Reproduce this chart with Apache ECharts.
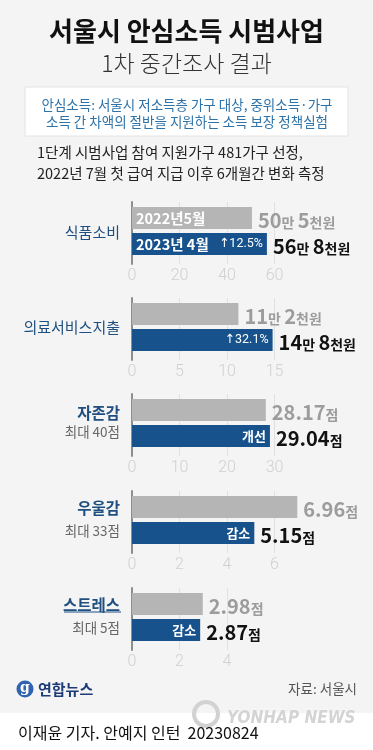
<!DOCTYPE html>
<html><head><meta charset="utf-8">
<script src="https://cdn.jsdelivr.net/npm/echarts@6/dist/echarts.min.js"></script>
<style>
html,body{margin:0;padding:0;background:#fff}
#c{width:373px;height:750px;background:linear-gradient(to bottom,#f4f4f4 0,#f4f4f4 713px,#ffffff 713px)}
</style>
</head><body><div id="c"></div>
<script>
// ---- data ----
const categories = ['식품소비', '의료서비스지출', '자존감', '우울감', '스트레스'];
const maxNotes = ['', '', '최대 40점', '최대 33점', '최대 5점'];
const periods = ['2022년5월', '2023년 4월'];
const values2022 = [50.5, 11.2, 28.17, 6.96, 2.98];
const values2023 = [56.8, 14.8, 29.04, 5.15, 2.87];
const changeTags = ['↑12.5%', '↑32.1%', '개선', '감소', '감소'];
const valueKinds = ['won', 'won', 'score', 'score', 'score'];
const tickMax = [60, 15, 30, 6, 4];
const tickStep = [20, 5, 10, 2, 2];

// ---- layout ----
const FONT = '"Noto Sans CJK KR", "Noto Sans", sans-serif';
const LEFT = 132, PX_PER_TICK = 47.5, BAR_H = 52;
const barTop = [205, 301, 397, 494, 591];
const catY = [232, 327, 413, 508, 605];
const noteY = [0, 0, 432, 531, 628];
const GRAY = '#b5b5b5', BLUE = '#17528c';

function valueText(v, kind, s) {
  if (kind === 'won') {
    const man = Math.floor(v);
    const ch = Math.round((v - man) * 10);
    return '{' + s + 'N|' + man + '}{' + s + 'U|만} {' + s + 'N|' + ch + '}{' + s + 'U|천원}';
  }
  return '{' + s + 'N|' + v.toFixed(2) + '}{' + s + 'U|점}';
}

const rich = {
  gN: {fontSize: 20, fontWeight: 'bold', color: '#9c9c9c', fontFamily: FONT, lineHeight: 24, verticalAlign: 'bottom'},
  gU: {fontSize: 14, fontWeight: 'bold', color: '#9c9c9c', fontFamily: FONT, lineHeight: 24, verticalAlign: 'bottom'},
  kN: {fontSize: 20, fontWeight: 'bold', color: '#111111', fontFamily: FONT, lineHeight: 24, verticalAlign: 'bottom'},
  kU: {fontSize: 14, fontWeight: 'bold', color: '#111111', fontFamily: FONT, lineHeight: 24, verticalAlign: 'bottom'}
};

const grids = [], xAxes = [], yAxes = [], series = [];
categories.forEach((cat, i) => {
  const w = tickMax[i] / tickStep[i] * PX_PER_TICK;
  // frame grid (gridlines, zero line, ticks)
  grids.push({left: LEFT, top: barTop[i] - 3, width: w, height: BAR_H + 10});
  xAxes.push({gridIndex: 2 * i, type: 'value', min: 0, max: tickMax[i], interval: tickStep[i],
    axisLine: {show: false}, axisTick: {show: false},
    splitLine: {show: true, lineStyle: {color: '#e1e1e1', width: 1}},
    axisLabel: {color: '#d0d0d0', fontSize: 16, fontFamily: 'Roboto', fontWeight: 300, margin: 4}});
  yAxes.push({gridIndex: 2 * i, type: 'value', min: 0, max: 1,
    axisLine: {show: true, onZero: false, lineStyle: {color: '#8e8e8e', width: 2}},
    axisTick: {show: false}, axisLabel: {show: false}, splitLine: {show: false}});
  // bar grid
  grids.push({left: LEFT, top: barTop[i], width: w, height: BAR_H});
  xAxes.push({gridIndex: 2 * i + 1, type: 'value', min: 0, max: tickMax[i], show: false});
  yAxes.push({gridIndex: 2 * i + 1, type: 'category', data: periods, inverse: true, show: false});

  const a = values2022[i], b = values2023[i];
  series.push({
    type: 'bar', xAxisIndex: 2 * i + 1, yAxisIndex: 2 * i + 1, barWidth: 22, barGap: '-100%', clip: false, z: 2,
    data: [
      {value: a, itemStyle: {color: GRAY},
        label: {show: true, position: 'right', distance: 6, formatter: valueText(a, valueKinds[i], 'g'), rich: rich}},
      {value: b, itemStyle: {color: BLUE},
        label: {show: true, position: 'right', distance: 6, formatter: valueText(b, valueKinds[i], 'k'), rich: rich}}
    ]
  });
  // overlay for period labels (first panel only)
  series.push({
    type: 'bar', xAxisIndex: 2 * i + 1, yAxisIndex: 2 * i + 1, barWidth: 22, barGap: '-100%', clip: false, z: 3, silent: true,
    itemStyle: {color: 'rgba(0,0,0,0)'},
    data: [
      {value: a, label: {show: i === 0, position: 'insideLeft', distance: 4, formatter: periods[0],
        color: '#fff', fontSize: 14.5, fontWeight: 'bold', fontFamily: FONT}},
      {value: b, label: {show: i === 0, position: 'insideLeft', distance: 4, formatter: periods[1],
        color: '#fff', fontSize: 14.5, fontWeight: 'bold', fontFamily: FONT}}
    ]
  });
  // overlay for change tag
  const pct = changeTags[i].indexOf('%') >= 0;
  series.push({
    type: 'bar', xAxisIndex: 2 * i + 1, yAxisIndex: 2 * i + 1, barWidth: 22, barGap: '-100%', clip: false, z: 3, silent: true,
    itemStyle: {color: 'rgba(0,0,0,0)'},
    data: [
      {value: a, label: {show: false}},
      {value: b, label: {show: true, position: 'insideRight', distance: 4, formatter: changeTags[i],
        color: '#fff', fontSize: pct ? 12.5 : 13, fontWeight: pct ? 'normal' : 'bold',
        fontFamily: pct ? 'Roboto, "DejaVu Sans", sans-serif' : FONT}}
    ]
  });
});

function txt(text, x, y, size, color, weight, align, family) {
  return {type: 'text', z: 10, style: {text: text, x: x, y: y, fill: color,
    fontSize: size, fontWeight: weight || 'normal', fontFamily: family || FONT,
    align: align || 'left', textAlign: align || 'left', verticalAlign: 'middle', textVerticalAlign: 'middle'}};
}

const graphics = [];
graphics.push(txt('서울시 안심소득 시범사업', 186.5, 31, 26, '#111111', 'bold', 'center'));
graphics.push(txt('1차 중간조사 결과', 186.5, 63, 23, '#333333', 300, 'center'));
graphics.push({type: 'rect', z: 5, shape: {x: 25, y: 87, width: 323, height: 49},
  style: {fill: '#ffffff', stroke: '#e4e4e4', lineWidth: 1}});
graphics.push(txt('안심소득: 서울시 저소득층 가구 대상, 중위소득·가구', 187, 104.5, 13.5, '#2d72a8', 'normal', 'center'));
graphics.push(txt('소득 간 차액의 절반을 지원하는 소득 보장 정책실험', 187, 121.5, 13.5, '#2d72a8', 'normal', 'center'));
graphics.push(txt('1단계 시범사업 참여 지원가구 481가구 선정,', 37, 152, 14.5, '#222222'));
graphics.push(txt('2022년 7월 첫 급여 지급 이후 6개월간 변화 측정', 37, 173, 14.5, '#222222'));

categories.forEach((cat, i) => {
  const bold = i >= 2;
  graphics.push(txt(cat, 120, catY[i], bold ? 15.5 : 15, '#1f4f80', bold ? 'bold' : 'normal', 'right'));
  if (maxNotes[i]) graphics.push(txt(maxNotes[i], 120, noteY[i], 13.5, '#666666', 'normal', 'right'));
});
graphics.push({type: 'line', z: 10, shape: {x1: 64, y1: 612, x2: 121, y2: 612}, style: {stroke: '#1f4f80', lineWidth: 1}});

// footer
graphics.push({type: 'circle', z: 10, shape: {cx: 25, cy: 689, r: 8.5}, style: {fill: '#2f63b0'}});
graphics.push(txt('g', 25, 688, 14, '#ffffff', 'bold', 'center', 'DejaVu Serif'));
graphics.push(txt('연합뉴스', 38, 689, 15, '#1d3b78', 'bold', 'left'));
graphics.push(txt('자료: 서울시', 357, 689, 13.5, '#555555', 'normal', 'right'));
graphics.push({type: 'circle', z: 10, shape: {cx: 206, cy: 714, r: 12}, style: {fill: 'none', stroke: '#d2d2d2', lineWidth: 4}});
graphics.push({type: 'text', z: 10, style: {text: 'YONHAP NEWS', x: 227, y: 719, fill: '#d4d4d4', stroke: '#ffffff', lineWidth: 0.5,
  fontSize: 17, fontWeight: 'bold', fontStyle: 'italic', fontFamily: '"DejaVu Sans Condensed", "Liberation Sans Narrow", "Liberation Sans"',
  align: 'left', textAlign: 'left', verticalAlign: 'middle', textVerticalAlign: 'middle'}});
graphics.push(txt('이재윤 기자. 안예지 인턴  20230824', 18, 733, 16, '#111111', 'normal', 'left'));

const chart = echarts.init(document.getElementById('c'), null, {renderer: 'canvas'});
chart.setOption({
  animation: false,
  backgroundColor: 'transparent',
  grid: grids, xAxis: xAxes, yAxis: yAxes, series: series,
  graphic: {elements: graphics}
});
</script></body></html>
